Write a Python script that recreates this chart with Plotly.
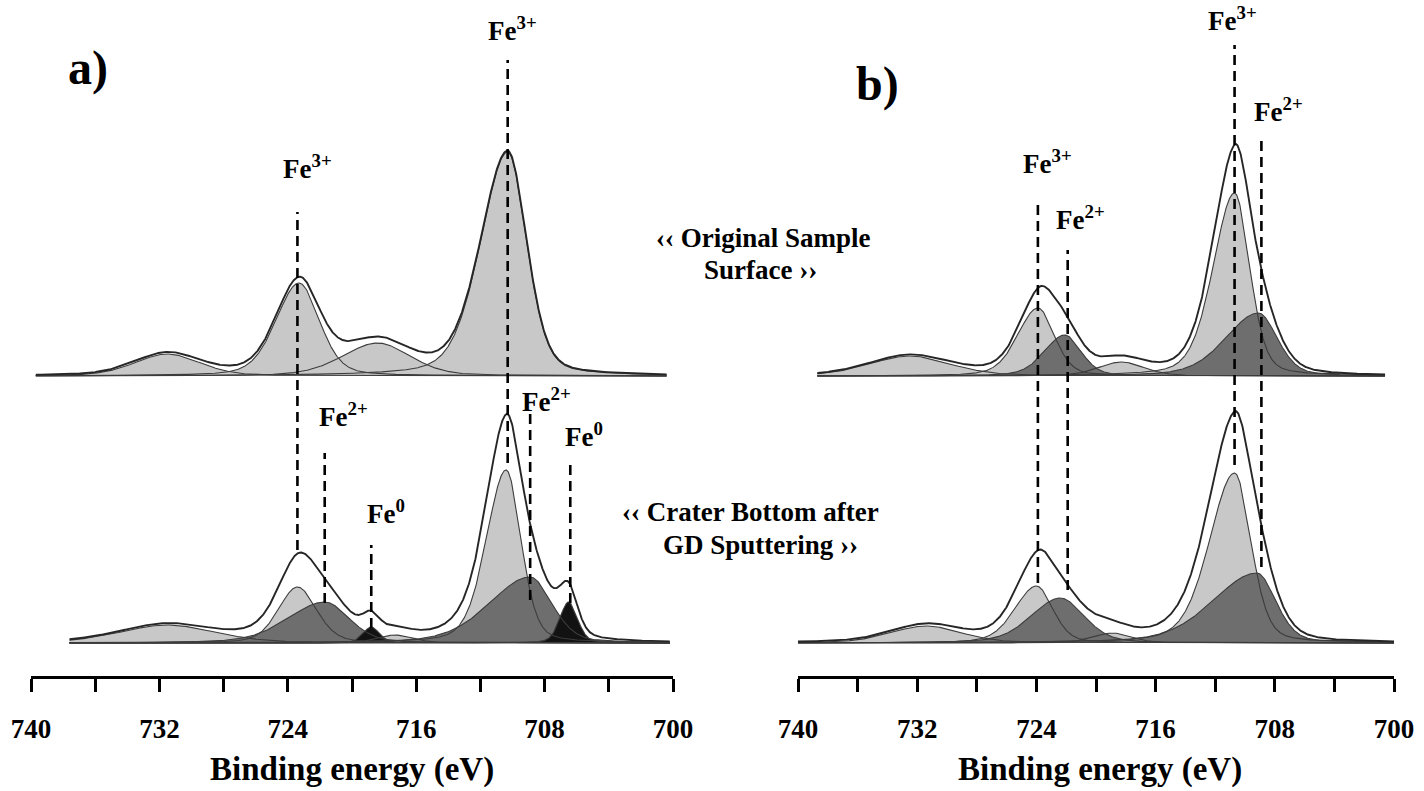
import numpy as np
import plotly.graph_objects as go

# ---------------- data ----------------
# x axis ticks (binding energy, eV)
tick_vals = [740, 732, 724, 716, 708, 700]
tick_text = ["740", "732", "724", "716", "708", "700"]
minor_tick_vals = [736, 728, 720, 712, 704]

# fitted components: centre (eV), height (a.u.), HWHM on high-BE side, HWHM on low-BE side, species
# panel a, original sample surface
a_top_center = [710.3, 723.3, 718.4, 731.5]
a_top_height = [224, 93, 33, 22]
a_top_hw_hi = [2.0, 1.7, 2.6, 2.4]
a_top_hw_lo = [1.4, 1.5, 2.4, 2.4]
a_top_kind = ["Fe3+", "Fe3+", "sat", "sat"]
a_top_range = [700.4, 739.7]

# panel a, crater bottom after GD sputtering
a_bot_center = [710.4, 708.9, 706.5, 723.4, 721.7, 718.8, 731.5, 717.3]
a_bot_height = [173, 66, 41, 56, 41, 16, 18, 8]
a_bot_hw_hi = [1.45, 3.0, 0.65, 1.4, 2.7, 0.6, 3.5, 1.3]
a_bot_hw_lo = [1.1, 1.6, 0.65, 1.4, 1.8, 0.6, 3.5, 1.3]
a_bot_kind = ["Fe3+", "Fe2+", "Fe0", "Fe3+", "Fe2+", "Fe0", "sat", "sat"]
a_bot_range = [700.2, 737.6]

# panel b, original sample surface
b_top_center = [710.7, 709.1, 723.9, 722.1, 732.5, 718.3]
b_top_height = [183, 63, 68, 41, 20, 14]
b_top_hw_hi = [1.7, 2.6, 1.6, 1.6, 3.2, 1.8]
b_top_hw_lo = [1.2, 1.5, 1.3, 1.3, 3.2, 1.8]
b_top_kind = ["Fe3+", "Fe2+", "Fe3+", "Fe2+", "sat", "sat"]
b_top_range = [700.6, 738.7]

# panel b, crater bottom after GD sputtering
b_bot_center = [710.7, 709.2, 724.0, 722.4, 731.4, 718.9]
b_bot_height = [170, 70, 57, 45, 17, 10]
b_bot_hw_hi = [2.0, 3.5, 1.7, 2.3, 2.8, 1.5]
b_bot_hw_lo = [1.3, 1.5, 1.3, 1.9, 2.8, 1.5]
b_bot_kind = ["Fe3+", "Fe2+", "Fe3+", "Fe2+", "sat", "sat"]
b_bot_range = [700.0, 740.0]

# peak-position markers (eV) and their labels
a_mark_energy = [710.3, 723.4, 721.7, 718.8, 708.9, 706.4]
a_mark_label = ["Fe3+", "Fe3+", "Fe2+", "Fe0", "Fe2+", "Fe0"]
b_mark_energy = [710.7, 708.9, 723.9, 721.9]
b_mark_label = ["Fe3+", "Fe2+", "Fe3+", "Fe2+"]

# ---------------- layout constants ----------------
W, H = 1424, 791
PLOT_H = 676            # plot area height in px (axis line position)
OFFSET = 267            # vertical offset of the upper spectrum
Y_RANGE = [-33, 643]
FONT = "Liberation Serif, Times New Roman, serif"
MIX = 0.3

a_mark_top = [583, 431, 190, 98, 230, 183]
a_mark_bot = [180, 93, 40, 15, 43, 40]
a_label_y = [614, 476, 228, 131, 243, 208]
a_label_dx = [5, 10, 19, 15, 16, 14]
b_mark_top = [598, 503, 441, 393]
b_mark_bot = [178, 76, 60, 53]
b_label_y = [624, 533, 481, 425]
b_label_dx = [-2, 17, 10, 13]

COLORS = {"Fe3+": "#c8c8c8", "sat": "#c8c8c8", "Fe2+": "#6e6e6e", "Fe0": "#121212"}
ORDER = {"Fe3+": 0, "sat": 0, "Fe2+": 1, "Fe0": 2}


def peak(e, c, h, whi, wlo):
    w = np.where(e >= c, whi, wlo)
    u = (e - c) / w
    return h * ((1 - MIX) * np.exp(-np.log(2) * u ** 2) + MIX / (1 + u ** 2))


fig = go.Figure()


def add_spectrum(xa, ya, centers, heights, hw_hi, hw_lo, kinds, erange, off):
    e = np.linspace(erange[0], erange[1], 1500)
    comps = [peak(e, c, h, a, b) for c, h, a, b in zip(centers, heights, hw_hi, hw_lo)]
    idx = sorted(range(len(comps)), key=lambda i: ORDER[kinds[i]])
    for i in idx:
        fig.add_trace(go.Scatter(
            x=np.concatenate([e, e[::-1]]),
            y=np.concatenate([comps[i] + off, np.full_like(e, off)]),
            fill="toself", fillcolor=COLORS[kinds[i]], mode="lines",
            line=dict(width=0), hoverinfo="skip", showlegend=False,
            xaxis=xa, yaxis=ya))
    for i in idx:
        fig.add_trace(go.Scatter(
            x=e, y=comps[i] + off, mode="lines",
            line=dict(color="#3c3c3c", width=1.1), hoverinfo="skip",
            showlegend=False, xaxis=xa, yaxis=ya))
    env = np.sum(comps, axis=0)
    fig.add_trace(go.Scatter(
        x=e, y=env + off, mode="lines", line=dict(color="#262626", width=1.9),
        hoverinfo="skip", showlegend=False, xaxis=xa, yaxis=ya))


add_spectrum("x", "y", a_top_center, a_top_height, a_top_hw_hi, a_top_hw_lo, a_top_kind, a_top_range, OFFSET)
add_spectrum("x", "y", a_bot_center, a_bot_height, a_bot_hw_hi, a_bot_hw_lo, a_bot_kind, a_bot_range, 0)
add_spectrum("x2", "y2", b_top_center, b_top_height, b_top_hw_hi, b_top_hw_lo, b_top_kind, b_top_range, OFFSET)
add_spectrum("x2", "y2", b_bot_center, b_bot_height, b_bot_hw_hi, b_bot_hw_lo, b_bot_kind, b_bot_range, 0)


def label_html(s):
    base, sup = s[:2], s[2:]
    return "<b>%s<sup>%s</sup></b>" % (base, sup)


shapes, annotations = [], []
for xr, yr, en, lab, top, bot, ly, dx in [
    ("x", "y", a_mark_energy, a_mark_label, a_mark_top, a_mark_bot, a_label_y, a_label_dx),
    ("x2", "y2", b_mark_energy, b_mark_label, b_mark_top, b_mark_bot, b_label_y, b_label_dx),
]:
    for e0, l0, t0, b0, y0, d0 in zip(en, lab, top, bot, ly, dx):
        shapes.append(dict(type="line", xref=xr, yref=yr, x0=e0, x1=e0, y0=b0, y1=t0,
                           line=dict(color="black", width=2.6, dash="10px,6px")))
        annotations.append(dict(xref=xr, yref=yr, x=e0, y=y0, xshift=d0, text=label_html(l0),
                                showarrow=False, font=dict(family=FONT, size=27, color="black")))


def paper_text(px, py, text, size):
    annotations.append(dict(xref="paper", yref="paper", x=px / W, y=1 - py / PLOT_H,
                            xanchor="center", yanchor="middle", text="<b>%s</b>" % text,
                            showarrow=False, font=dict(family=FONT, size=size, color="black")))


paper_text(88, 68, "a)", 48)
paper_text(877, 84, "b)", 48)
paper_text(763, 238, "\u2039\u2039 Original Sample", 27)
paper_text(760, 270, "Surface \u203a\u203a", 27)
paper_text(750, 512, "\u2039\u2039 Crater Bottom after", 27)
paper_text(760, 545, "GD Sputtering \u203a\u203a", 27)
paper_text(352, 769, "Binding energy (eV)", 33)
paper_text(1100, 769, "Binding energy (eV)", 33)

ax_common = dict(range=[740, 700], tickmode="array", tickvals=tick_vals,
                 ticktext=["<b>%s</b>" % t for t in tick_text],
                 showline=True, linecolor="black", linewidth=3, ticks="outside",
                 ticklen=13, tickwidth=3, tickcolor="black", showgrid=False, zeroline=False,
                 ticklabelstandoff=14,
                 minor=dict(tickmode="array", tickvals=minor_tick_vals, ticks="outside",
                            ticklen=13, tickwidth=3, tickcolor="black", showgrid=False),
                 tickfont=dict(family=FONT, size=27, color="black"), fixedrange=True)
ay_common = dict(range=Y_RANGE, visible=False, showgrid=False, zeroline=False, domain=[0, 1])

fig.update_layout(
    width=W, height=H, paper_bgcolor="white", plot_bgcolor="white",
    margin=dict(l=0, r=0, t=0, b=H - PLOT_H, autoexpand=False),
    xaxis=dict(domain=[31 / W, 673 / W], anchor="y", **ax_common),
    xaxis2=dict(domain=[798 / W, 1394 / W], anchor="y2", **ax_common),
    yaxis=dict(anchor="x", **ay_common),
    yaxis2=dict(anchor="x2", **ay_common),
    shapes=shapes, annotations=annotations, showlegend=False,
)

fig.write_html("out.html")
